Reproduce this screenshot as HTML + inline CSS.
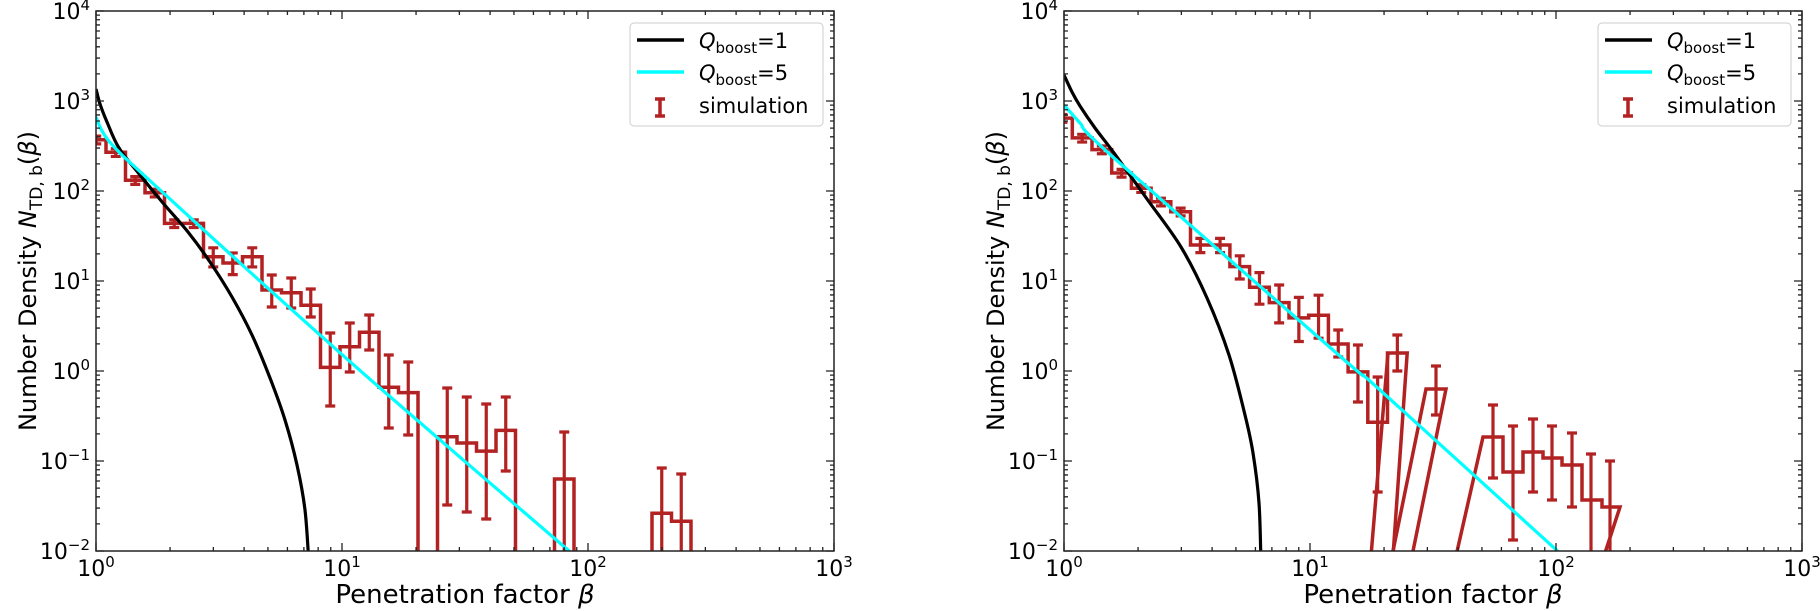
<!DOCTYPE html>
<html><head><meta charset="utf-8"><style>
html,body{margin:0;padding:0;background:#fff;}
svg{display:block;font-family:"DejaVu Sans","Liberation Sans",sans-serif;}
</style></head><body>
<svg id="s" width="1820" height="611" viewBox="0 0 1820 611" xmlns="http://www.w3.org/2000/svg">
<defs>
<clipPath id="cL"><rect x="96" y="11" width="738" height="540"/></clipPath>
<clipPath id="cR"><rect x="1064" y="11" width="738" height="540"/></clipPath>
</defs>
<g id="plotL" clip-path="url(#cL)"></g>
<g id="plotR" clip-path="url(#cR)"></g>
<g id="axes"></g>
<g font-size="22" fill="#000">
<text x="96" y="576" text-anchor="middle">10<tspan font-size="15" dy="-9">0</tspan></text>
<text x="342" y="576" text-anchor="middle">10<tspan font-size="15" dy="-9">1</tspan></text>
<text x="588" y="576" text-anchor="middle">10<tspan font-size="15" dy="-9">2</tspan></text>
<text x="834" y="576" text-anchor="middle">10<tspan font-size="15" dy="-9">3</tspan></text>
<text x="90" y="559" text-anchor="end">10<tspan font-size="15" dy="-9">−2</tspan></text>
<text x="90" y="469" text-anchor="end">10<tspan font-size="15" dy="-9">−1</tspan></text>
<text x="90" y="379" text-anchor="end">10<tspan font-size="15" dy="-9">0</tspan></text>
<text x="90" y="289" text-anchor="end">10<tspan font-size="15" dy="-9">1</tspan></text>
<text x="90" y="199" text-anchor="end">10<tspan font-size="15" dy="-9">2</tspan></text>
<text x="90" y="109" text-anchor="end">10<tspan font-size="15" dy="-9">3</tspan></text>
<text x="90" y="19" text-anchor="end">10<tspan font-size="15" dy="-9">4</tspan></text>
<text x="1064" y="576" text-anchor="middle">10<tspan font-size="15" dy="-9">0</tspan></text>
<text x="1310" y="576" text-anchor="middle">10<tspan font-size="15" dy="-9">1</tspan></text>
<text x="1556" y="576" text-anchor="middle">10<tspan font-size="15" dy="-9">2</tspan></text>
<text x="1802" y="576" text-anchor="middle">10<tspan font-size="15" dy="-9">3</tspan></text>
<text x="1058" y="559" text-anchor="end">10<tspan font-size="15" dy="-9">−2</tspan></text>
<text x="1058" y="469" text-anchor="end">10<tspan font-size="15" dy="-9">−1</tspan></text>
<text x="1058" y="379" text-anchor="end">10<tspan font-size="15" dy="-9">0</tspan></text>
<text x="1058" y="289" text-anchor="end">10<tspan font-size="15" dy="-9">1</tspan></text>
<text x="1058" y="199" text-anchor="end">10<tspan font-size="15" dy="-9">2</tspan></text>
<text x="1058" y="109" text-anchor="end">10<tspan font-size="15" dy="-9">3</tspan></text>
<text x="1058" y="19" text-anchor="end">10<tspan font-size="15" dy="-9">4</tspan></text>
</g>
<g font-size="26" fill="#000">
<text x="465" y="603" text-anchor="middle">Penetration factor <tspan font-style="italic">β</tspan></text>
<text x="1433" y="603" text-anchor="middle">Penetration factor <tspan font-style="italic">β</tspan></text>
</g>
<g font-size="24" fill="#000">
<text transform="translate(36,281) rotate(-90)" text-anchor="middle">Number Density <tspan font-style="italic">N</tspan><tspan font-size="17" dy="6">TD, b</tspan><tspan dy="-6">(</tspan><tspan font-style="italic">β</tspan>)</text>
<text transform="translate(1004,281) rotate(-90)" text-anchor="middle">Number Density <tspan font-style="italic">N</tspan><tspan font-size="17" dy="6">TD, b</tspan><tspan dy="-6">(</tspan><tspan font-style="italic">β</tspan>)</text>
</g>
<g>
<rect x="630" y="23" width="193" height="103" rx="4" fill="#fff" fill-opacity="0.85" stroke="#ccc" stroke-width="1"/>
<line x1="637" y1="40" x2="684" y2="40" stroke="#000" stroke-width="3.5"/>
<line x1="637" y1="72" x2="684" y2="72" stroke="#00ffff" stroke-width="3.5"/>
<line x1="660" y1="99" x2="660" y2="116" stroke="#b22222" stroke-width="3.5"/>
<line x1="655" y1="99" x2="665" y2="99" stroke="#b22222" stroke-width="3.5"/>
<line x1="655" y1="116" x2="665" y2="116" stroke="#b22222" stroke-width="3.5"/>
<g font-size="21" fill="#000">
<text x="699" y="48"><tspan font-style="italic">Q</tspan><tspan font-size="15" dy="5">boost</tspan><tspan dy="-5">=1</tspan></text>
<text x="699" y="80"><tspan font-style="italic">Q</tspan><tspan font-size="15" dy="5">boost</tspan><tspan dy="-5">=5</tspan></text>
<text x="699" y="113">simulation</text>
</g>
</g>
<g transform="translate(968,0)">
<rect x="630" y="23" width="193" height="103" rx="4" fill="#fff" fill-opacity="0.85" stroke="#ccc" stroke-width="1"/>
<line x1="637" y1="40" x2="684" y2="40" stroke="#000" stroke-width="3.5"/>
<line x1="637" y1="72" x2="684" y2="72" stroke="#00ffff" stroke-width="3.5"/>
<line x1="660" y1="99" x2="660" y2="116" stroke="#b22222" stroke-width="3.5"/>
<line x1="655" y1="99" x2="665" y2="99" stroke="#b22222" stroke-width="3.5"/>
<line x1="655" y1="116" x2="665" y2="116" stroke="#b22222" stroke-width="3.5"/>
<g font-size="21" fill="#000">
<text x="699" y="48"><tspan font-style="italic">Q</tspan><tspan font-size="15" dy="5">boost</tspan><tspan dy="-5">=1</tspan></text>
<text x="699" y="80"><tspan font-style="italic">Q</tspan><tspan font-size="15" dy="5">boost</tspan><tspan dy="-5">=5</tspan></text>
<text x="699" y="113">simulation</text>
</g>
</g>
</svg>
<script>
(function(){
var NS="http://www.w3.org/2000/svg";
function el(p,n,a){var e=document.createElementNS(NS,n);for(var k in a)e.setAttribute(k,a[k]);p.appendChild(e);return e;}
function Y(l){return 11+(4-l)*90;}
var RED="#b22222";
var axes=document.getElementById('axes');
function frame(x0){
  var y0=11,y1=551,x1=x0+738,d="";
  for(var dec=0;dec<3;dec++)for(var m=1;m<=10;m++){
    var x=x0+246*(dec+Math.log10(m));
    if(m==10&&dec<2)continue;
    var L=(m==1||m==10)?8:4;
    d+="M"+x+" "+y1+"v"+(-L)+"M"+x+" "+y0+"v"+L;
  }
  for(var dec=0;dec<6;dec++)for(var m=1;m<=10;m++){
    var y=y1-90*(dec+Math.log10(m));
    var L=(m==1||m==10)?8:4;
    d+="M"+x0+" "+y+"h"+L+"M"+x1+" "+y+"h"+(-L);
  }
  el(axes,"path",{d:d,stroke:"#222","stroke-width":1.3,fill:"none"});
  el(axes,"rect",{x:x0,y:y0,width:738,height:540,fill:"none",stroke:"#222","stroke-width":1.5});
}
frame(96);frame(1064);

function poly(g,pts,col,w){el(g,"polyline",{points:pts.map(function(p){return p.join(",");}).join(" "),fill:"none",stroke:col,"stroke-width":w,"stroke-linejoin":"miter"});}
function smooth(g,p,col,w){
  var d="M"+p[0][0]+" "+p[0][1];
  for(var i=0;i<p.length-1;i++){
    var p0=p[Math.max(0,i-1)],p1=p[i],p2=p[i+1],p3=p[Math.min(p.length-1,i+2)];
    var c1x=p1[0]+(p2[0]-p0[0])/6,c1y=p1[1]+(p2[1]-p0[1])/6;
    var c2x=p2[0]-(p3[0]-p1[0])/6,c2y=p2[1]-(p3[1]-p1[1])/6;
    d+="C"+c1x+" "+c1y+" "+c2x+" "+c2y+" "+p2[0]+" "+p2[1];
  }
  el(g,"path",{d:d,fill:"none",stroke:col,"stroke-width":w});
}
function ebar(g,x,t,b){
  el(g,"path",{d:"M"+x+" "+t+"V"+b+"M"+(x-5)+" "+t+"h10M"+(x-5)+" "+b+"h10",stroke:RED,"stroke-width":3.2,fill:"none"});
}
function errs(l){var up=Math.max(0.04,0.34-0.19*l);var dn=up*1.15+0.1*Math.max(0,-l);return [Y(l+up),Y(l-dn)];}

var gL=document.getElementById('plotL');
var L=[2.57,2.43,2.12,1.98,1.64,1.64,1.27,1.20,1.27,0.90,0.87,0.73,0.04,0.27,0.43,-0.18,-0.24,null,-0.73,-0.80,-0.89,-0.66,null,null,-1.2,null,null,null,null,-1.58,-1.67];
var e0=86.5,w=19.5,pts=[],BOT=565;
pts.push([e0,BOT]);
for(var i=0;i<L.length;i++){var y=L[i]==null?BOT:Y(L[i]);pts.push([e0+w*i,y]);pts.push([e0+w*(i+1),y]);}
pts.push([e0+w*L.length,BOT]);
poly(gL,pts,RED,3.5);
var LE={15:[355,428],16:[362,435],18:[388,505],19:[397,512],20:[404,519],21:[397,471],24:[432,600],29:[468,600],30:[474,600],12:[333,406],13:[323,372],14:[315,350],11:[289,317],10:[278,308],9:[275,307]};
for(var i=0;i<L.length;i++){if(L[i]==null)continue;var c=e0+w*(i+0.5);var tb=LE[i]||errs(L[i]);ebar(gL,c,tb[0],tb[1]);}
smooth(gL,[[96,89],[100,104],[107,122],[119,148],[140,175],[163,203],[188,232],[210,262],[232,297],[252,335],[270,378],[285,420],[297,465],[305,510],[309,565]],"#000",3.2);
smooth(gL,[[96,117],[101,129],[108,140],[120,153],[135,167],[250,272],[380,388],[575,556]],"#00ffff",3.2);

var gR=document.getElementById('plotR');
var R=[2.81,2.59,2.46,2.20,2.03,1.88,1.77,1.40,1.40,1.16,0.93,0.76,0.59,0.62,0.30,-0.01,-0.57,0.20];
var r0=1052.6,rw=19.7;pts=[];
for(var i=0;i<R.length;i++){var y=Y(R[i]);pts.push([r0+rw*i,y]);pts.push([r0+rw*(i+1),y]);}
pts.push([1393,556]);
poly(gR,pts,RED,3.5);
var RE={14:[330,357],15:[345,402],16:[377,492],17:[335,371]};
for(var i=0;i<R.length;i++){var c=r0+rw*(i+0.5);var tb=RE[i]||errs(R[i]);ebar(gR,c,tb[0],tb[1]);}
poly(gR,[[1371,556],[1388,353]],RED,3.5);
poly(gR,[[1392,556],[1426,389],[1446,389],[1412,556]],RED,3.5);
ebar(gR,1436,366,415);
poly(gR,[[1456,556],[1483,437],[1503,437],[1503,472],[1523,472],[1523,452],[1543,452],[1543,458],[1562,458],[1562,465],[1582,465],[1582,500],[1602,500],[1602,507],[1620,507],[1604,556]],RED,3.5);
[[1493,405,478],[1513,426,540],[1533,419,492],[1552,426,500],[1572,433,507],[1591,454,600],[1610,461,600]].forEach(function(a){ebar(gR,a[0],a[1],a[2]);});
smooth(gR,[[1064,75],[1072,92],[1080,106],[1095,128],[1114,153],[1147,199],[1181,247],[1207,298],[1229,355],[1245,415],[1253,453],[1259,503],[1261,565]],"#000",3.2);
smooth(gR,[[1064,105],[1072,114],[1080,123],[1114,158],[1341,357],[1380,390],[1563,556]],"#00ffff",3.2);
})();
</script>
</body></html>
